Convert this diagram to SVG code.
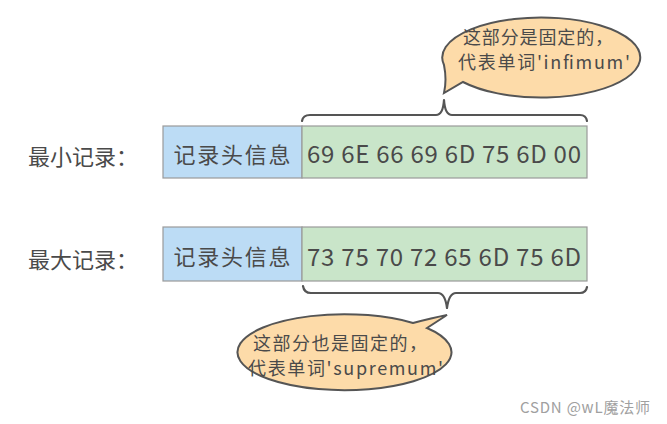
<svg xmlns="http://www.w3.org/2000/svg" width="667" height="424" viewBox="0 0 667 424">
<style>
.lbl{font-family:"Noto Sans CJK SC","Noto Sans",sans-serif;fill:#4a4a4a;}
.hdr{fill:#bcdcf5;stroke:#9a9a9a;stroke-width:1.2;}
.dat{fill:#c9e5c9;stroke:#9a9a9a;stroke-width:1.2;}
.brace{fill:none;stroke:#555;stroke-width:2.2;stroke-linecap:round;stroke-linejoin:round;}
.bub{fill:#fddba9;stroke:#555;stroke-width:2;}
</style>
<rect width="667" height="424" fill="#fff"/>
<g id="label-min"><text class="lbl" x="28" y="165" font-size="22" textLength="110">最小记录：</text></g>
<g id="label-max"><text class="lbl" x="28" y="268" font-size="22" textLength="110">最大记录：</text></g>
<g id="row-min">
<rect class="hdr" x="163" y="126" width="139" height="52"/>
<rect class="dat" x="302" y="126" width="285" height="52"/>
<text class="lbl" x="232" y="163" font-size="22" text-anchor="middle" textLength="117">记录头信息</text>
<text class="lbl" x="307" y="163" font-size="24" textLength="274">69 6E 66 69 6D 75 6D 00</text>
</g>
<g id="row-max">
<rect class="hdr" x="163" y="227" width="139" height="54"/>
<rect class="dat" x="302" y="227" width="285" height="54"/>
<text class="lbl" x="232" y="265" font-size="22" text-anchor="middle" textLength="117">记录头信息</text>
<text class="lbl" x="307" y="266" font-size="24" textLength="274">73 75 70 72 65 6D 75 6D</text>
</g>
<g id="connectors">
<path class="brace" d="M302,121 Q303,115 310,115 L436,115 Q443,115 444,100 Q445,115 452,115 L580,115 Q586,115 587,121"/>
<path class="brace" d="M303,286 Q304,293 311,293 L438,293 Q445,293 447,308 Q449,293 456,293 L580,293 Q586,293 587,287"/>
</g>
<g id="callout-top">
<path class="bub" d="M463,82 A99,40 0 1 0 444,65 Q447,80 444,93 Z"/>
<text class="lbl" x="463" y="44" font-size="18" textLength="150">这部分是固定的，</text>
<text class="lbl" x="458" y="69" font-size="18" textLength="172">代表单词'infimum'</text>
</g>
<g id="callout-bottom">
<path class="bub" d="M427,328 A107,38 0 1 1 413,323 Q432,318 447,315 Z"/>
<text class="lbl" x="253" y="350" font-size="18" textLength="174">这部分也是固定的，</text>
<text class="lbl" x="248" y="375" font-size="18" textLength="195">代表单词'supremum'</text>
</g>
<g id="watermark"><text x="520" y="413" font-family="'Noto Sans CJK SC','Noto Sans',sans-serif" font-size="15" fill="#a0a0a0" textLength="130">CSDN @wL魔法师</text></g>
</svg>
